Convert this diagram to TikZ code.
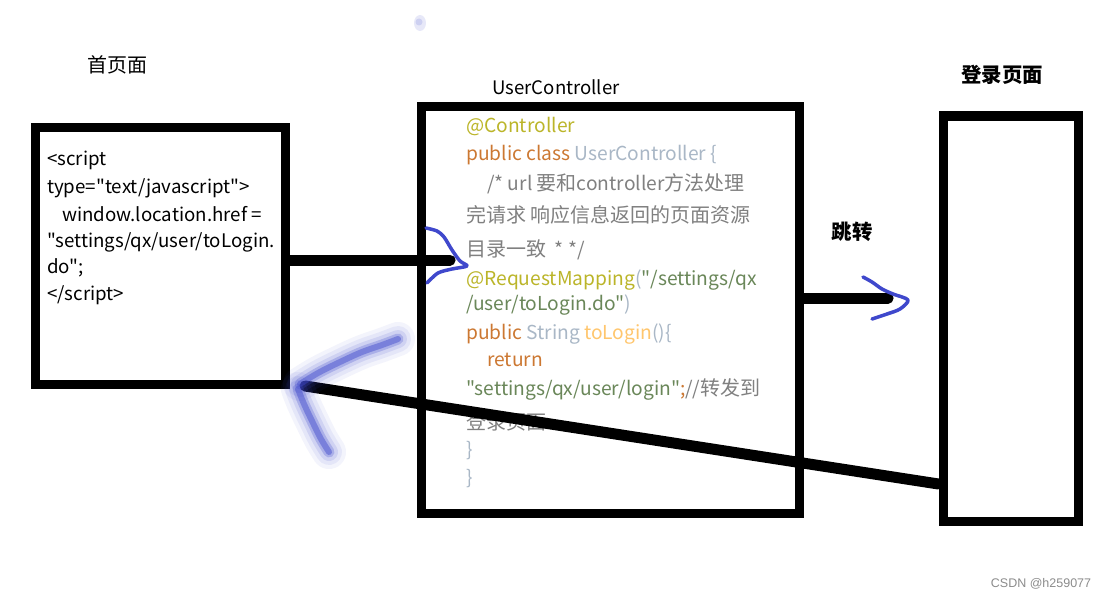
\documentclass[tikz,border=0pt]{standalone}
\usepackage{fontspec}
\setmainfont{Noto Sans CJK SC}[Ligatures=TeXOff]
\newfontfamily\wmfont{Liberation Sans}
\definecolor{annot}{HTML}{BBB529}
\definecolor{kw}{HTML}{CC7832}
\definecolor{idt}{HTML}{A9B7C6}
\definecolor{cmt}{HTML}{808080}
\definecolor{strc}{HTML}{6A8759}
\definecolor{fnc}{HTML}{FFC66D}
\definecolor{pen}{HTML}{3F48CC}
\newcommand\zh[1]{{\fontsize{20}{22}\selectfont #1}}
\tikzset{
  bigbox/.style={draw=black, line width=9pt, fill=white, inner sep=0pt},
  thickline/.style={draw=black, line width=11pt, line cap=round},
  penline/.style={draw=pen, line width=3.5pt, line cap=round, line join=round},
  codeline/.style={anchor=west, inner sep=0pt, font=\fontsize{19.2}{21}\selectfont},
  lblline/.style={anchor=west, inner sep=0pt, font=\fontsize{18.7}{21}\selectfont, text=black},
  title/.style={inner sep=0pt, font=\fontsize{20}{22}\selectfont, text=black},
  btitle/.style={inner sep=0pt, font=\fontsize{20.4}{22}\selectfont\bfseries, text=black},
}
\begin{document}
\begin{tikzpicture}[x=1pt,y=-1pt]
\useasboundingbox (0,0) rectangle (1107,599);
\fill[white] (0,0) rectangle (1107,599);
% faint dot at top
\fill[pen, opacity=0.12] (420,23) ellipse (6 and 8);
\fill[pen, opacity=0.15] (419,22) circle (3.5);
% boxes
\node[bigbox, minimum width=250pt, minimum height=257pt] (lbox) at (160,255.5) {};
\node[bigbox, minimum width=378pt, minimum height=406pt] (mbox) at (610,310) {};
\node[bigbox, minimum width=135pt, minimum height=405pt] (rbox) at (1010.5,318.5) {};
% titles
\node[title] (tl) at (117,65) {首页面};
\node[title, font=\fontsize{18.6}{21}\selectfont] (tm) at (556,87) {UserController};
\node[btitle] (tr) at (1002,75) {登录页面};
\node[btitle] (tj) at (852,232) {跳转};
% left box text
\node[lblline] (l1) at (47,160) {<script};
\node[lblline] (l2) at (47,188) {type="text/javascript">};
\node[lblline] (l3) at (47,214) {\hspace*{15pt}window.location.href =};
\node[lblline] (l4) at (47,242) {"settings/qx/user/toLogin.};
\node[lblline] (l5) at (47,268) {do";};
\node[lblline] (l6) at (47,295) {</script>};
% code text
\node[codeline, text=annot] (c1) at (466,127) {@Controller};
\node[codeline] (c2) at (466,155) {\textcolor{kw}{public class} \textcolor{idt}{UserController \{}};
\node[codeline, text=cmt] (c3) at (466,184) {\hspace*{21pt}/* url \zh{要和}controller\zh{方法处理}};
\node[codeline, text=cmt] (c4) at (466,215) {\zh{完请求 响应信息返回的页面资源}};
\node[codeline, text=cmt] (c5) at (466,250) {\zh{目录一致}\ \ * */};
\node[codeline] (c6) at (466,280) {\textcolor{annot}{@RequestMapping}\textcolor{idt}{(}\textcolor{strc}{"/settings/qx}};
\node[codeline] (c7) at (466,305) {\textcolor{strc}{/user/toLogin.do"}\textcolor{idt}{)}};
\node[codeline] (c8) at (466,334) {\textcolor{kw}{public} \textcolor{idt}{String} \textcolor{fnc}{toLogin}\textcolor{idt}{()\{}};
\node[codeline, text=kw] (c9) at (466,360) {\hspace*{21pt}return};
\node[codeline] (c10) at (466,389) {\textcolor{strc}{"settings/qx/user/login"}\textcolor{kw}{;}\textcolor{cmt}{//\zh{转发到}}};
\node[codeline, text=cmt] (c11) at (466,422) {\zh{登录页面}};
\node[codeline, text=idt] (c12) at (466,451) {\}};
\node[codeline, text=idt] (c13) at (466,479) {\}};
% connectors
\coordinate (h1) at (450,260);
\coordinate (h2) at (888,298);
\coordinate (d1) at (305,386);
\coordinate (d2) at (943,484);
\draw[thickline] (lbox.east |- h1) -- (h1);
\draw[thickline] (mbox.east |- h2) -- (h2);
\draw[thickline] (d1) -- (rbox.west |- d2);
% pen arrowheads
\draw[penline] plot[smooth, tension=0.5] coordinates {(426,228) (437,231) (444,237) (452,250) (460,261) (467,266) (452,269) (438,273) (427,283)};
\draw[penline] plot[smooth, tension=0.5] coordinates {(863,277) (872,282) (882,289) (893,294) (908,300) (900,309) (887,314) (872,319)};
% blurred pen strokes
\foreach \w/\o in {34/0.06, 26/0.08, 18/0.12, 11/0.25, 6/0.45} {
  \draw[pen, line width=\w pt, opacity=\o, line cap=round, line join=round]
    plot[smooth, tension=0.6] coordinates {(300,384) (318,373) (340,362) (362,352) (382,345) (398,339)};
  \draw[pen, line width=\w pt, opacity=\o, line cap=round, line join=round]
    plot[smooth, tension=0.6] coordinates {(298,389) (304,404) (313,423) (321,439) (329,452)};
}
% watermark
\node[inner sep=0pt, text=black!45, font=\wmfont\fontsize{12.5}{14}\selectfont] (wm) at (1041,584) {CSDN @h259077};
\end{tikzpicture}
\end{document}
